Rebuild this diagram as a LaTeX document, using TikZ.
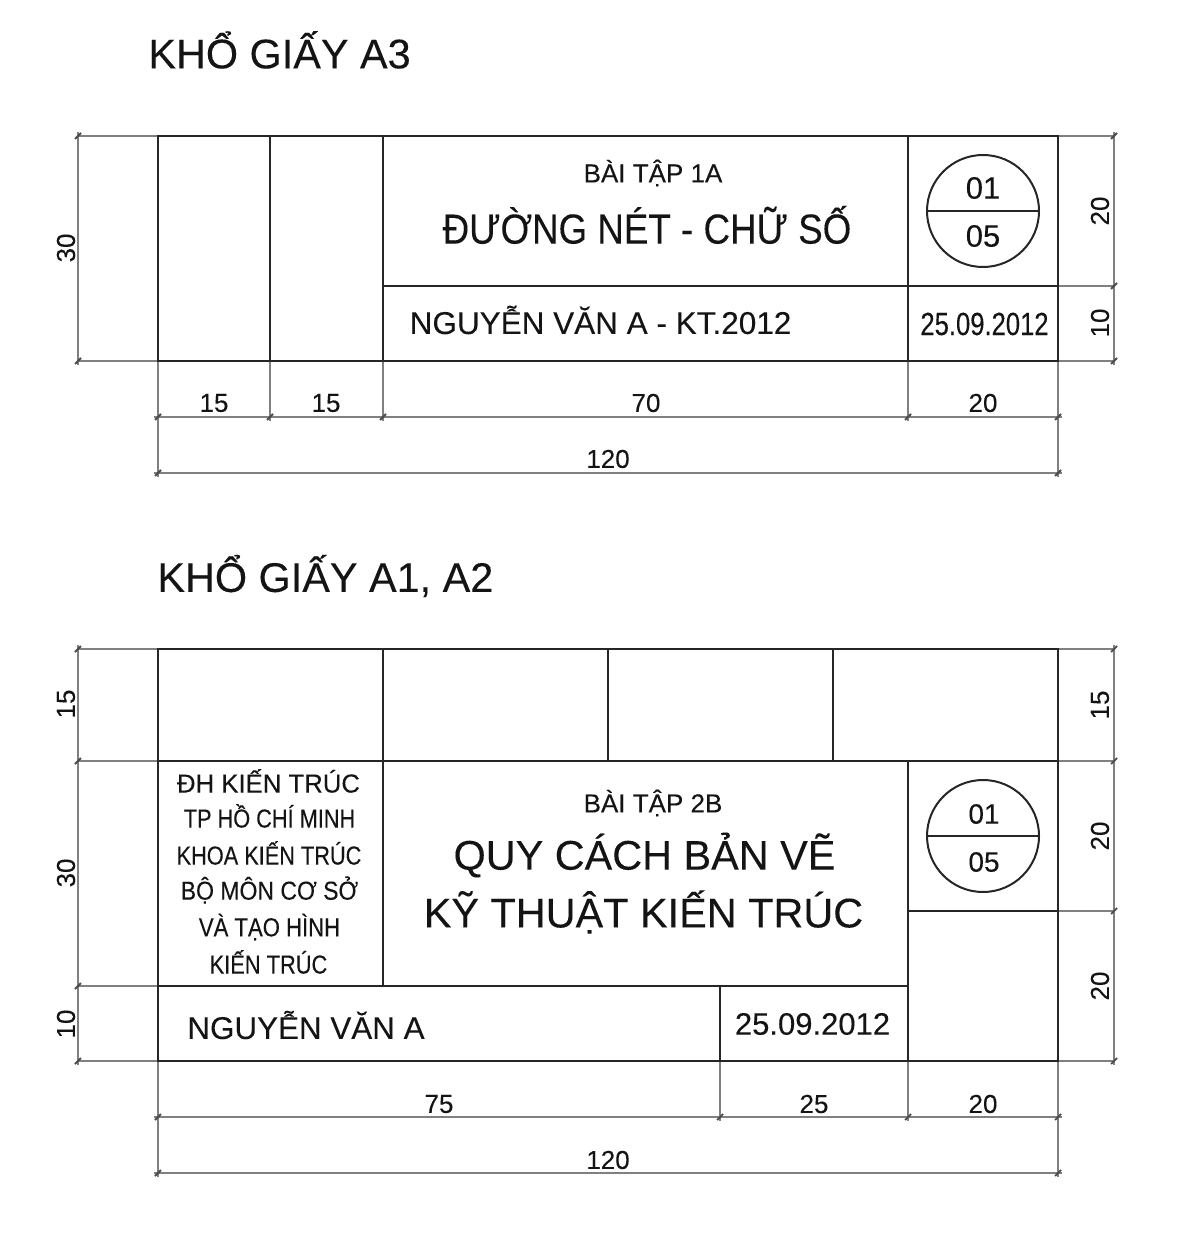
\documentclass[tikz,border=0pt]{standalone}
\usepackage{fontspec}
\setmainfont{Liberation Sans}[FakeBold=0.18]
\newcommand{\fs}[1]{\fontsize{#1}{#1}\selectfont}
\tikzset{
  x=0.5pt,y=-0.5pt,
  frame/.style={draw=black!85,line width=1.3pt},
  thin line/.style={draw=black!50,line width=0.6pt},
  tickmark/.style={draw=black!70,line width=0.9pt},
  txt/.style={inner sep=0pt,text=black!92,anchor=center},
  dimv/.style={txt,rotate=90},
  title/.style={txt,anchor=west,font=\fs{20.7}},
}
\newcommand{\tk}[2]{\draw[tickmark] (#1-3,#2+3) -- (#1+3,#2-3);}
\begin{document}
\begin{tikzpicture}
\useasboundingbox (0,0) rectangle (1200,1240);
\node[title] (t1) at (148,50) {KHỔ GIẤY A3};
\node[title] (t2) at (157,576) {KHỔ GIẤY A1, A2};
% --- A3 dimension lines
\draw[thin line] (78,136)--(158,136) (78,361)--(158,361) (78,132)--(78,365);
\draw[thin line] (1058,136)--(1114,136) (1058,286)--(1114,286) (1058,361)--(1114,361) (1114,132)--(1114,365);
\draw[thin line] (158,361)--(158,477) (270,361)--(270,421) (383,361)--(383,421) (908,361)--(908,421) (1058,361)--(1058,477);
\draw[thin line] (154,417)--(1062,417) (154,473)--(1062,473);
\foreach \a/\b in {78/136,78/361,1114/136,1114/286,1114/361,158/417,270/417,383/417,908/417,1058/417,158/473,1058/473}{\tk{\a}{\b}}
% --- A3 frame
\draw[frame] (158,136) rectangle (1058,361);
\draw[frame] (270,136)--(270,361) (383,136)--(383,361) (908,136)--(908,361) (383,286)--(1058,286);
\node[draw=black!85,line width=1pt,circle,minimum size=56pt,inner sep=0pt] (c1) at (983,211) {};
\draw[draw=black!85,line width=1.2pt] (c1.west)--(c1.east);
\node[txt,font=\fs{15.5}] (a1) at (983,188) {01};
\node[txt,font=\fs{15.5}] (a2) at (983,236) {05};
\node[txt,font=\fs{13}] (a3) at (653,173) {BÀI TẬP 1A};
\node[txt,font=\fs{21}] (a4) at (647,225) {\scalebox{.875}[1]{ĐƯỜNG NÉT - CHỮ SỐ}};
\node[txt,font=\fs{15.75}] (a5) at (600.5,320) {NGUYỄN VĂN A - KT.2012};
\node[txt,font=\fs{16}] (a6) at (984.5,324) {\scalebox{.8}[1]{25.09.2012}};
\node[dimv,font=\fs{13}] (d1) at (66,248) {30};
\node[dimv,font=\fs{13}] (d2) at (1100,211) {20};
\node[dimv,font=\fs{13}] (d3) at (1100,323) {10};
\node[txt,font=\fs{13}] (d4) at (214,403) {15};
\node[txt,font=\fs{13}] (d5) at (326,403) {15};
\node[txt,font=\fs{13}] (d6) at (646,403) {70};
\node[txt,font=\fs{13}] (d7) at (983,403) {20};
\node[txt,font=\fs{13}] (d8) at (608,459) {120};
% --- A1 dimension lines
\draw[thin line] (78,649)--(158,649) (78,761)--(158,761) (78,986)--(158,986) (78,1061)--(158,1061) (78,645)--(78,1065);
\draw[thin line] (1058,649)--(1114,649) (1058,761)--(1114,761) (1058,911)--(1114,911) (1058,1061)--(1114,1061) (1114,645)--(1114,1065);
\draw[thin line] (158,1061)--(158,1177) (720,1061)--(720,1121) (908,1061)--(908,1121) (1058,1061)--(1058,1177);
\draw[thin line] (154,1117)--(1062,1117) (154,1173)--(1062,1173);
\foreach \a/\b in {78/649,78/761,78/986,78/1061,1114/649,1114/761,1114/911,1114/1061,158/1117,720/1117,908/1117,1058/1117,158/1173,1058/1173}{\tk{\a}{\b}}
% --- A1 frame
\draw[frame] (158,649) rectangle (1058,1061);
\draw[frame] (158,761)--(1058,761) (383,649)--(383,986) (608,649)--(608,761) (833,649)--(833,761)
  (158,986)--(908,986) (908,761)--(908,1061) (908,911)--(1058,911) (720,986)--(720,1061);
\node[draw=black!85,line width=1pt,circle,minimum size=56pt,inner sep=0pt] (c2) at (983,836) {};
\draw[draw=black!85,line width=1.2pt] (c2.west)--(c2.east);
\node[txt,font=\fs{14}] (b1) at (984,814) {01};
\node[txt,font=\fs{14}] (b2) at (984,862) {05};
\node[txt,font=\fs{13}] (b3) at (653,803) {BÀI TẬP 2B};
\node[txt,font=\fs{20.7}] (b4) at (644.5,855) {QUY CÁCH BẢN VẼ};
\node[txt,font=\fs{20.7}] (b5) at (643.5,912) {KỸ THUẬT KIẾN TRÚC};
\node[txt,font=\fs{15.7}] (b6) at (306,1025) {NGUYỄN VĂN A};
\node[txt,font=\fs{15.5}] (b7) at (812.5,1024) {25.09.2012};
\node[txt,font=\fs{13}] (s1) at (268.5,781) {\scalebox{.99}[1]{ĐH KIẾN TRÚC}};
\node[txt,font=\fs{13}] (s2) at (269.5,816) {\scalebox{.836}[1]{TP HỒ CHÍ MINH}};
\node[txt,font=\fs{13}] (s3) at (269,853) {\scalebox{.836}[1]{KHOA KIẾN TRÚC}};
\node[txt,font=\fs{13}] (s4) at (269.5,890) {\scalebox{.885}[1]{BỘ MÔN CƠ SỞ}};
\node[txt,font=\fs{13}] (s5) at (269.5,927) {\scalebox{.85}[1]{VÀ TẠO HÌNH}};
\node[txt,font=\fs{13}] (s6) at (268.5,962) {\scalebox{.84}[1]{KIẾN TRÚC}};
\node[dimv,font=\fs{13}] (e1) at (66,704) {15};
\node[dimv,font=\fs{13}] (e2) at (66,873) {30};
\node[dimv,font=\fs{13}] (e3) at (66,1024) {10};
\node[dimv,font=\fs{13}] (e4) at (1100,705) {15};
\node[dimv,font=\fs{13}] (e5) at (1100,836) {20};
\node[dimv,font=\fs{13}] (e6) at (1100,986) {20};
\node[txt,font=\fs{13}] (e7) at (439,1104) {75};
\node[txt,font=\fs{13}] (e8) at (814,1104) {25};
\node[txt,font=\fs{13}] (e9) at (983,1104) {20};
\node[txt,font=\fs{13}] (e10) at (608,1160) {120};
\end{tikzpicture}
\end{document}
